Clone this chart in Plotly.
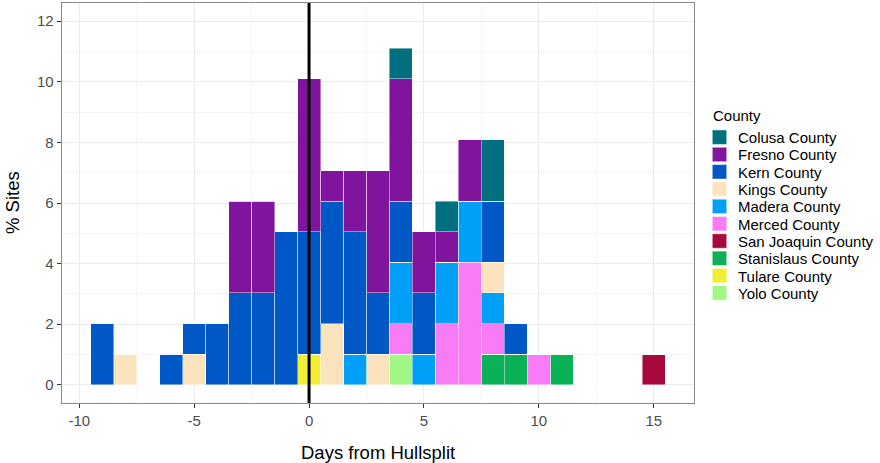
import plotly.graph_objects as go

# ---------------- data (counts of sites per day bin) ----------------
days = [-9, -8, -7, -6, -5, -4, -3, -2, -1, 0, 1, 2, 3, 4, 5, 6, 7, 8, 9, 10, 11, 12, 13, 14, 15]

colusa      = [0, 0, 0, 0, 0, 0, 0, 0, 0, 0, 0, 0, 0, 1, 0, 1, 0, 2, 0, 0, 0, 0, 0, 0, 0]
fresno      = [0, 0, 0, 0, 0, 0, 3, 3, 0, 5, 1, 2, 4, 4, 2, 1, 2, 0, 0, 0, 0, 0, 0, 0, 0]
kern        = [2, 0, 0, 1, 1, 2, 3, 3, 5, 4, 4, 4, 2, 2, 2, 0, 0, 2, 1, 0, 0, 0, 0, 0, 0]
kings       = [0, 1, 0, 0, 1, 0, 0, 0, 0, 0, 2, 0, 1, 0, 0, 0, 0, 1, 0, 0, 0, 0, 0, 0, 0]
madera      = [0, 0, 0, 0, 0, 0, 0, 0, 0, 0, 0, 1, 0, 2, 1, 2, 2, 1, 0, 0, 0, 0, 0, 0, 0]
merced      = [0, 0, 0, 0, 0, 0, 0, 0, 0, 0, 0, 0, 0, 1, 0, 2, 4, 1, 0, 1, 0, 0, 0, 0, 0]
san_joaquin = [0, 0, 0, 0, 0, 0, 0, 0, 0, 0, 0, 0, 0, 0, 0, 0, 0, 0, 0, 0, 0, 0, 0, 0, 1]
stanislaus  = [0, 0, 0, 0, 0, 0, 0, 0, 0, 0, 0, 0, 0, 0, 0, 0, 0, 1, 1, 0, 1, 0, 0, 0, 0]
tulare      = [0, 0, 0, 0, 0, 0, 0, 0, 0, 1, 0, 0, 0, 0, 0, 0, 0, 0, 0, 0, 0, 0, 0, 0, 0]
yolo        = [0, 0, 0, 0, 0, 0, 0, 0, 0, 0, 0, 0, 0, 1, 0, 0, 0, 0, 0, 0, 0, 0, 0, 0, 0]

county_names = ["Colusa County", "Fresno County", "Kern County", "Kings County",
                "Madera County", "Merced County", "San Joaquin County",
                "Stanislaus County", "Tulare County", "Yolo County"]
county_counts = [colusa, fresno, kern, kings, madera, merced, san_joaquin,
                 stanislaus, tulare, yolo]
county_colors = ["#006F80", "#80149C", "#0058C6", "#FBE4BD", "#00A0F8",
                 "#F97BF6", "#A8093B", "#0AB157", "#F1EE33", "#A0F784"]

x_ticks = [-10, -5, 0, 5, 10, 15]
y_ticks = [0, 2, 4, 6, 8, 10, 12]

total_sites = sum(sum(c) for c in county_counts)

# ---------------- geometry ----------------
W, H = 880, 463
ML, MR, MT, MB = 62, 186, 3, 60
PW, PH = W - ML - MR, H - MT - MB
FONT = "Liberation Sans, Arial, sans-serif"


def px_x(px):
    return (px - ML) / PW


def px_y(py):
    return (H - MB - py) / PH


fig = go.Figure()

# stacked bars: ggplot stacks first factor level on top, so add in reverse
for name, counts, color in reversed(list(zip(county_names, county_counts, county_colors))):
    pct = [c / total_sites * 100 for c in counts]
    fig.add_trace(go.Bar(
        x=days, y=pct, name=name, width=1,
        marker=dict(color=color, line=dict(color="rgba(255,255,255,0.55)", width=0.8)),
        showlegend=False,
    ))

fig.update_layout(
    width=W, height=H,
    margin=dict(l=ML, r=MR, t=MT, b=MB),
    barmode="stack", bargap=0,
    paper_bgcolor="white", plot_bgcolor="white",
    font=dict(family=FONT, size=15, color="#4D4D4D"),
    showlegend=False,
)

fig.update_xaxes(
    range=[-10.75, 16.75], tickvals=x_ticks, ticktext=[str(v) for v in x_ticks],
    ticks="outside", ticklen=4, tickcolor="#333333", tickwidth=1,
    tickfont=dict(size=15, color="#4D4D4D"),
    showgrid=True, gridcolor="#EBEBEB", gridwidth=1,
    minor=dict(tickvals=[-7.5, -2.5, 2.5, 7.5, 12.5], showgrid=True,
               gridcolor="#F3F3F3", gridwidth=0.8),
    showline=True, linecolor="#8A8A8A", linewidth=1.3, mirror=True,
    zeroline=False,
)
fig.update_yaxes(
    range=[-0.6, 12.6], tickvals=y_ticks, ticktext=[str(v) for v in y_ticks],
    ticks="outside", ticklen=4, tickcolor="#333333", tickwidth=1,
    tickfont=dict(size=15, color="#4D4D4D"),
    showgrid=True, gridcolor="#EBEBEB", gridwidth=1,
    minor=dict(dtick=1, showgrid=True, gridcolor="#F3F3F3", gridwidth=0.8),
    showline=True, linecolor="#8A8A8A", linewidth=1.3, mirror=True,
    zeroline=False,
)

# vertical reference line at day 0
fig.add_shape(type="line", xref="x", yref="paper", x0=0, x1=0, y0=0, y1=1,
              line=dict(color="black", width=3), layer="above")

annotations = [
    dict(text="Days from Hullsplit", xref="paper", yref="paper",
         x=px_x(378), y=px_y(452), xanchor="center", yanchor="middle",
         showarrow=False, font=dict(family=FONT, size=18.5, color="black")),
    dict(text="% Sites", xref="paper", yref="paper",
         x=px_x(12), y=px_y(203), xanchor="center", yanchor="middle",
         textangle=-90, showarrow=False, font=dict(family=FONT, size=18.5, color="black")),
    dict(text="County", xref="paper", yref="paper",
         x=px_x(710.5), y=px_y(115.5), xanchor="left", yanchor="middle",
         showarrow=False, font=dict(family=FONT, size=15, color="black")),
]

# manual legend (matches ggplot spacing)
step = 17.3
for i, (name, color) in enumerate(zip(county_names, county_colors)):
    top = 130 + step * i
    fig.add_shape(type="rect", xref="paper", yref="paper",
                  x0=px_x(712.3), x1=px_x(726.7), y0=px_y(top + 14.4), y1=px_y(top),
                  fillcolor=color, line=dict(color="rgba(255,255,255,0.55)", width=0.8))
    annotations.append(dict(text=name, xref="paper", yref="paper",
                            x=px_x(735.5), y=px_y(top + 7.6), xanchor="left", yanchor="middle",
                            showarrow=False, font=dict(family=FONT, size=15, color="black")))

fig.update_layout(annotations=annotations)

# remove the browser's default 8px page margin so the figure fills the window exactly
fig.write_html("out.html",
               config={"displayModeBar": False, "staticPlot": True},
               post_script="document.body.style.margin='0px';document.body.style.overflow='hidden';")
